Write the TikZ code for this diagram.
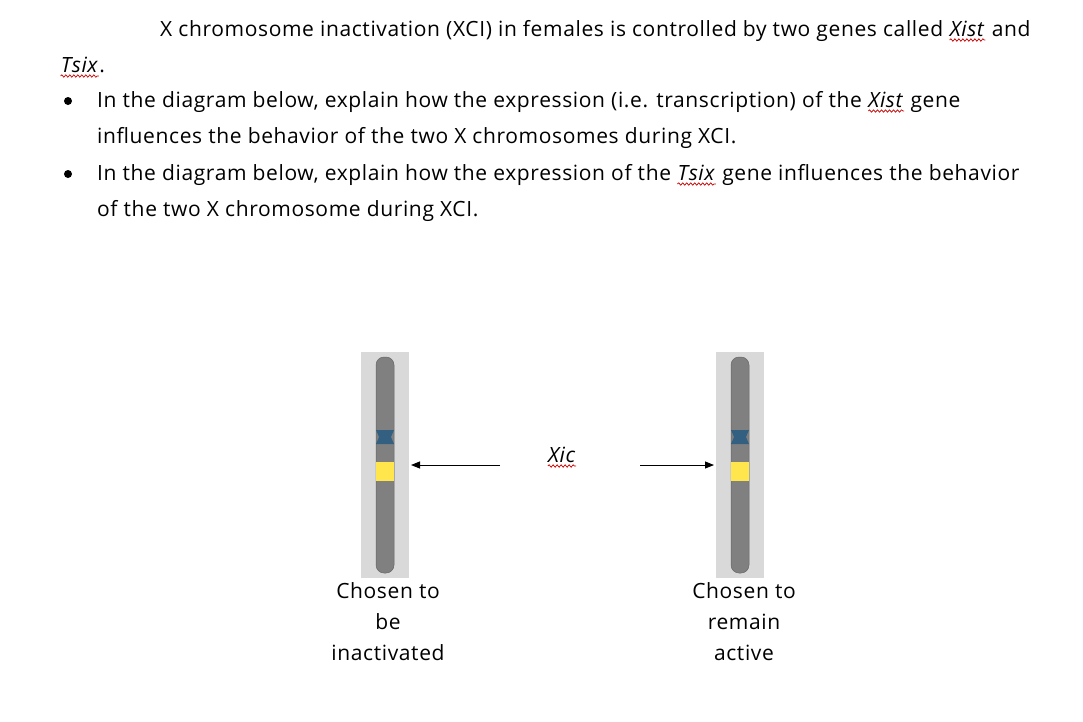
\documentclass[tikz,border=0pt]{standalone}
\usepackage{fontspec}
\setmainfont[LetterSpace=3]{Open Sans}
\usetikzlibrary{decorations.pathmorphing,arrows.meta}
\tikzset{
 txt/.style={anchor=base west,inner sep=0pt,font=\fontsize{21}{25}\selectfont},
 lbl/.style={anchor=base,inner sep=0pt,font=\fontsize{21}{25}\selectfont},
 wavy/.style={red!80!black,line width=0.7pt,decorate,decoration={snake,amplitude=1.2pt,segment length=4pt}},
 arr/.style={-{Triangle[length=9pt,width=7pt]},line width=1pt},
 bg/.style={fill=black!15,draw=none},
 chrom/.style={fill=black!50,draw=black!60,line width=0.5pt,rounded corners=8pt},
}
\newcommand{\wav}[1]{\tikz[baseline=(w.base),x=1pt,y=1pt]{\node[inner sep=0pt,anchor=base] (w) {#1}; \draw[wavy] ([yshift=-4pt]w.base west) -- ([yshift=-4pt]w.base east);}}
\begin{document}
\begin{tikzpicture}[x=1pt,y=-1pt]
\useasboundingbox (0,0) rectangle (1083,721);
\node[txt] (l1) at (160,36) {X chromosome inactivation (XCI) in females is controlled by two genes called \wav{\textit{Xist}} and};
\node[txt] (l2) at (60,72) {\wav{\textit{Tsix}}.};
\fill (68,101) circle (4);
\node[txt] (l3) at (97,107) {In the diagram below, explain how the expression (i.e. transcription) of the \wav{\textit{Xist}} gene};
\node[txt] (l4) at (97,143) {influences the behavior of the two X chromosomes during XCI.};
\fill (68,174) circle (4);
\node[txt] (l5) at (97,180) {In the diagram below, explain how the expression of the \wav{\textit{Tsix}} gene influences the behavior};
\node[txt] (l6) at (97,216) {of the two X chromosome during XCI.};
\foreach \cx/\n/\s in {385/a/1,740/b/-1}{
 \fill[bg] (\cx-24,352) rectangle (\cx+24,578);
 \fill[chrom] (\cx-9,357) rectangle (\cx+9,573);
 \fill[black!70!blue!70!cyan,opacity=0.6] (\cx-9,430) -- (\cx+9,430) -- (\cx+6,437) -- (\cx+9,444) -- (\cx-9,444) -- (\cx-6,437) -- cycle;
 \fill[yellow!80!orange!70] (\cx-9,462) rectangle (\cx+9,481);
 \coordinate (y\n) at (\cx+\s*26,465);
}
\node[lbl] (xic) at (562,462) {\wav{\textit{Xic}}};
\coordinate (al) at (500,465);
\coordinate (ar) at (640,465);
\draw[arr] (al) -- (ya);
\draw[arr] (ar) -- (yb);
\node[lbl] (c1) at (388,598) {Chosen to};
\node[lbl] (c2) at (388,629) {be};
\node[lbl] (c3) at (388,660) {inactivated};
\node[lbl] (d1) at (744,598) {Chosen to};
\node[lbl] (d2) at (744,629) {remain};
\node[lbl] (d3) at (744,660) {active};
\end{tikzpicture}
\end{document}
